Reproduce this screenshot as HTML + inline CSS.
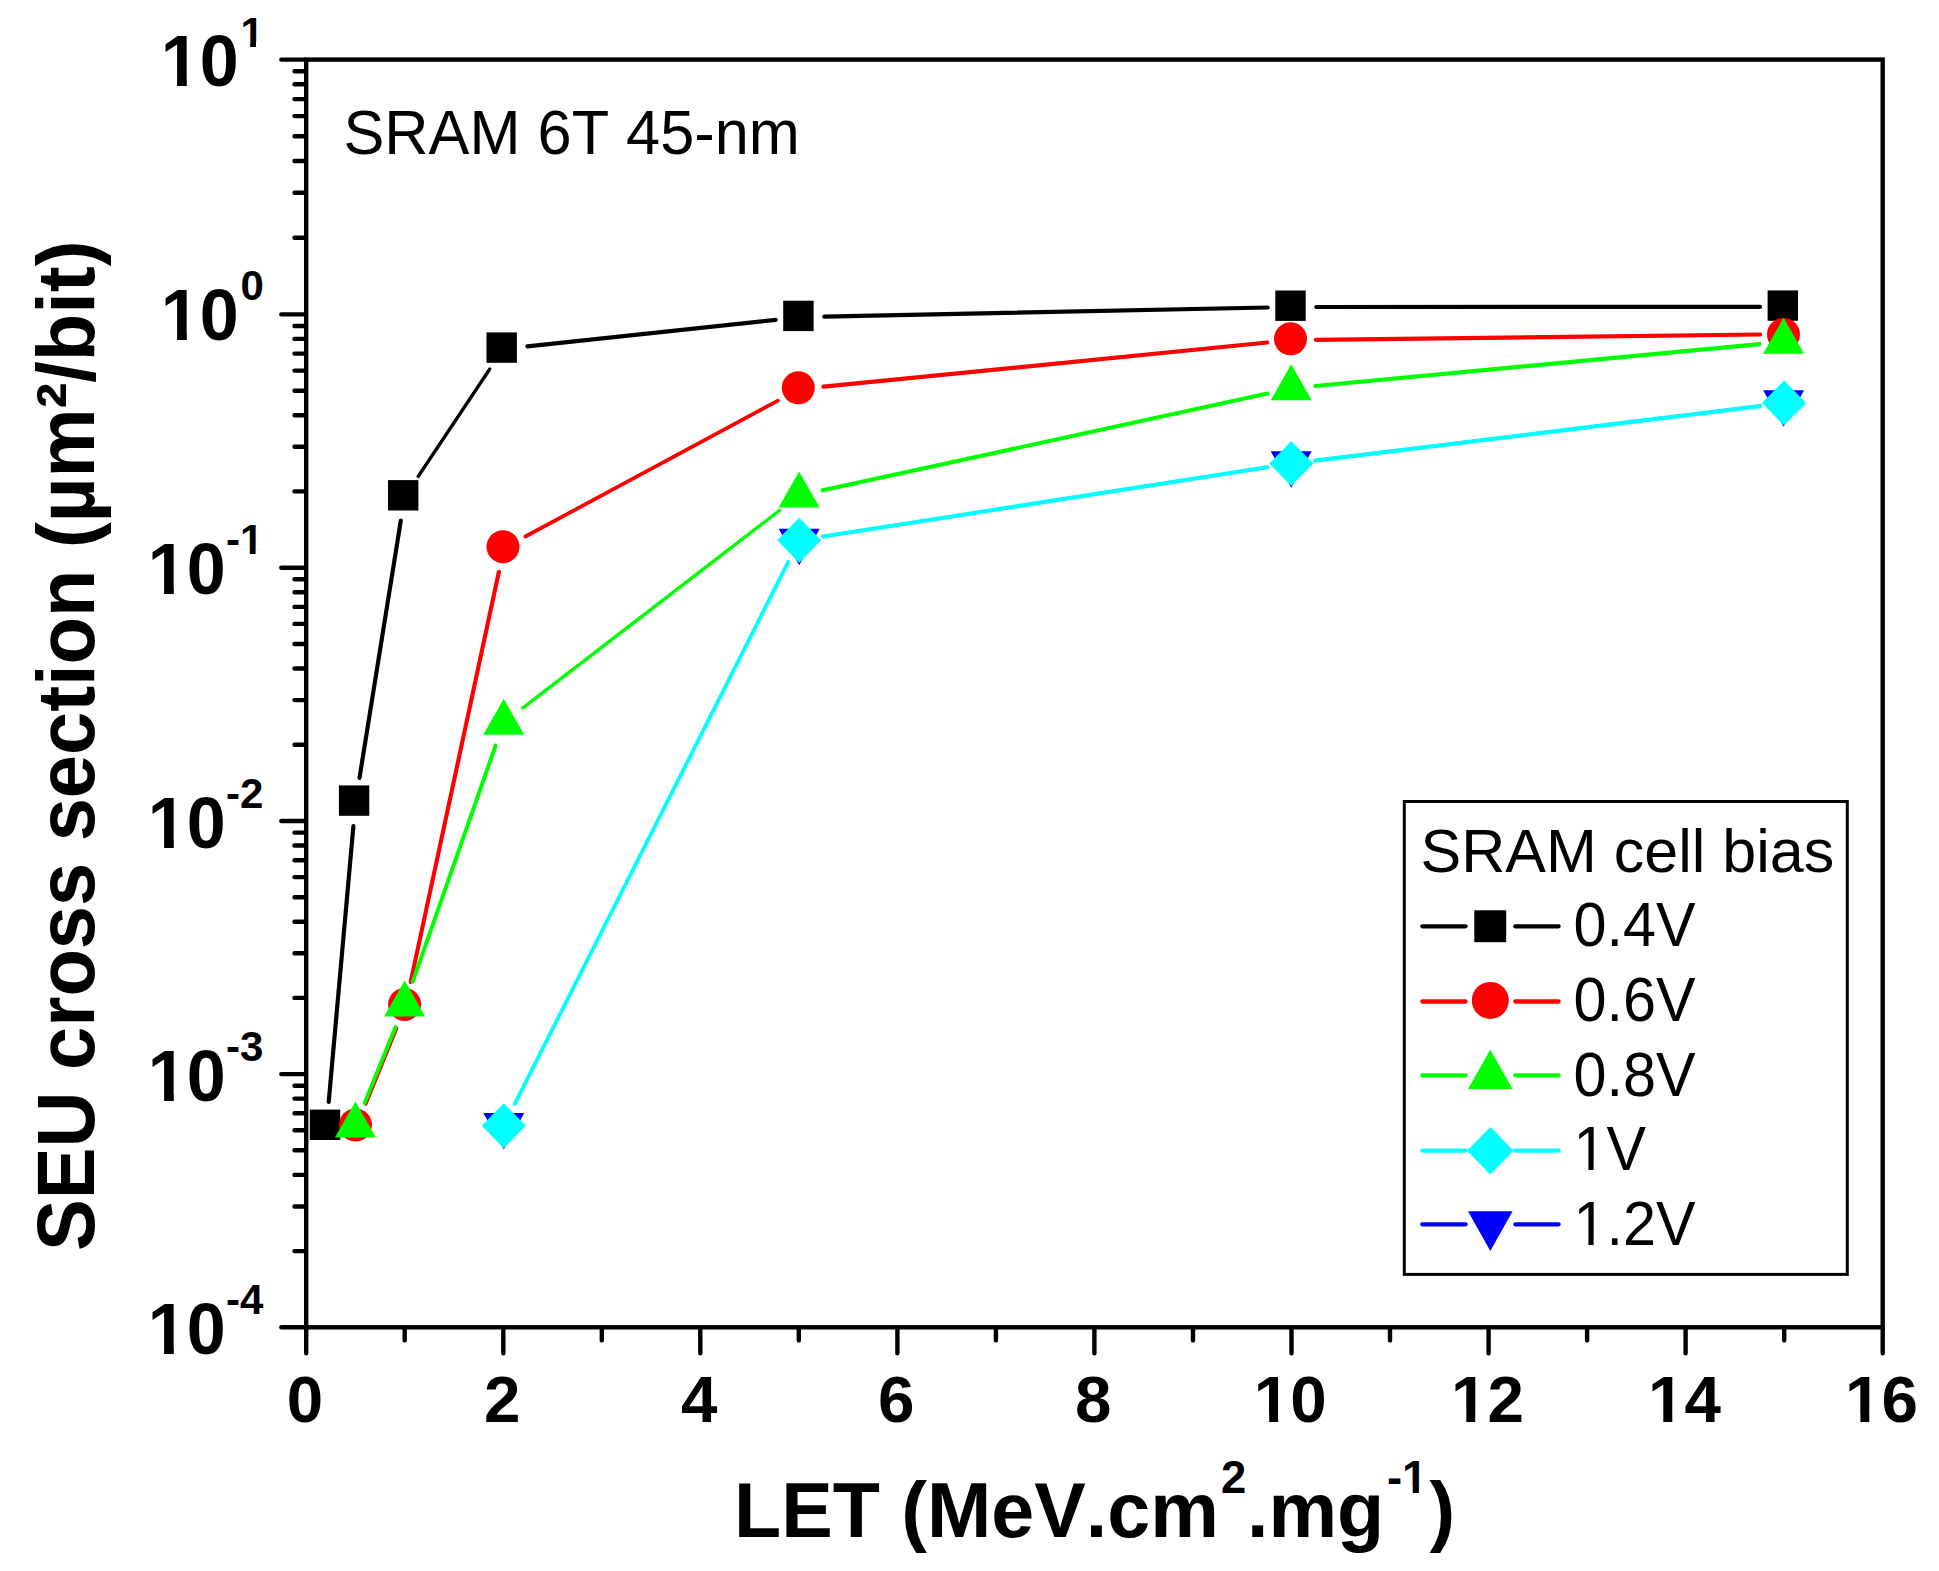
<!DOCTYPE html><html><head><meta charset="utf-8"><title>SEU cross section vs LET</title><style>html,body{margin:0;padding:0;background:#fff;overflow:hidden}svg{display:block}text{font-family:"Liberation Sans",Arial,sans-serif;fill:#000;font-kerning:none;font-feature-settings:"kern" 0,"liga" 0}</style></head><body>
<svg width="1939" height="1571" viewBox="0 0 1939 1571">
<rect x="0" y="0" width="1939" height="1571" fill="#fff"/>
<path d="M281.3 59.6H305M281.3 314.4H305M281.3 567.7H305M281.3 821.0H305M281.3 1074.1H305M281.3 1327.3H305M294.5 1251.1H305M294.5 1206.5H305M294.5 1174.9H305M294.5 1150.3H305M294.5 1130.3H305M294.5 1113.3H305M294.5 1098.6H305M294.5 1085.7H305M294.5 997.9H305M294.5 953.3H305M294.5 921.7H305M294.5 897.2H305M294.5 877.1H305M294.5 860.2H305M294.5 845.5H305M294.5 832.6H305M294.5 744.7H305M294.5 700.1H305M294.5 668.5H305M294.5 644.0H305M294.5 623.9H305M294.5 606.9H305M294.5 592.2H305M294.5 579.3H305M294.5 491.4H305M294.5 446.8H305M294.5 415.2H305M294.5 390.7H305M294.5 370.6H305M294.5 353.6H305M294.5 338.9H305M294.5 326.0H305M294.5 237.7H305M294.5 192.8H305M294.5 161.0H305M294.5 136.3H305M294.5 116.1H305M294.5 99.1H305M294.5 84.3H305M294.5 71.3H305M306.2 1328.2V1353.2M404.7 1328.2V1340.4M503.3 1328.2V1353.2M601.8 1328.2V1340.4M700.3 1328.2V1353.2M798.8 1328.2V1340.4M897.4 1328.2V1353.2M995.9 1328.2V1340.4M1094.4 1328.2V1353.2M1193.0 1328.2V1340.4M1291.5 1328.2V1353.2M1390.0 1328.2V1340.4M1488.6 1328.2V1353.2M1587.1 1328.2V1340.4M1685.6 1328.2V1353.2M1784.2 1328.2V1340.4M1882.7 1328.2V1353.2" stroke="#000" stroke-width="4.4" stroke-linecap="round" fill="none"/>
<rect x="306.2" y="59.6" width="1576.5" height="1267.7" stroke="#000" stroke-width="4.4" fill="none"/>
<path d="M328.7 1101.9L353.4 826.1" stroke="#000" stroke-width="4.18" stroke-linecap="round" fill="none"/>
<path d="M359.5 777.9L400.8 520.6" stroke="#000" stroke-width="4.15" stroke-linecap="round" fill="none"/>
<path d="M418.2 476.4L489.7 369.1" stroke="#000" stroke-width="3.49" stroke-linecap="round" fill="none"/>
<path d="M527.4 346.3L775.7 319.8" stroke="#000" stroke-width="4.18" stroke-linecap="round" fill="none"/>
<path d="M824.2 316.7L1267.7 307.5" stroke="#000" stroke-width="4.20" stroke-linecap="round" fill="none"/>
<path d="M1316.3 307.0L1760.0 306.9" stroke="#000" stroke-width="4.20" stroke-linecap="round" fill="none"/>
<rect x="309.8" y="1109.6" width="30.4" height="30.4" fill="#000"/>
<rect x="338.9" y="785.4" width="30.4" height="30.4" fill="#000"/>
<rect x="388.0" y="480.1" width="30.4" height="30.4" fill="#000"/>
<rect x="486.5" y="332.4" width="30.4" height="30.4" fill="#000"/>
<rect x="783.2" y="300.7" width="30.4" height="30.4" fill="#000"/>
<rect x="1275.3" y="290.5" width="30.4" height="30.4" fill="#000"/>
<rect x="1767.6" y="290.4" width="30.4" height="30.4" fill="#000"/>
<path d="M365.7 1103.8L396.4 1028.2" stroke="#f00" stroke-width="3.89" stroke-linecap="round" fill="none"/>
<path d="M410.7 981.9L498.9 571.8" stroke="#f00" stroke-width="4.11" stroke-linecap="round" fill="none"/>
<path d="M525.4 536.5L777.9 400.6" stroke="#f00" stroke-width="3.70" stroke-linecap="round" fill="none"/>
<path d="M823.5 386.7L1267.3 342.5" stroke="#f00" stroke-width="4.18" stroke-linecap="round" fill="none"/>
<path d="M1315.8 339.8L1760.2 334.5" stroke="#f00" stroke-width="4.20" stroke-linecap="round" fill="none"/>
<circle cx="355.5" cy="1125.0" r="16.5" fill="#f00"/>
<circle cx="404.6" cy="1004.4" r="16.5" fill="#f00"/>
<circle cx="503.0" cy="546.7" r="16.5" fill="#f00"/>
<circle cx="798.3" cy="387.8" r="16.5" fill="#f00"/>
<circle cx="1290.5" cy="338.8" r="16.5" fill="#f00"/>
<circle cx="1783.5" cy="334.4" r="16.5" fill="#f00"/>
<path d="M364.6 1103.0L395.5 1027.0" stroke="#0f0" stroke-width="3.89" stroke-linecap="round" fill="none"/>
<path d="M412.8 981.6L495.6 745.6" stroke="#0f0" stroke-width="3.96" stroke-linecap="round" fill="none"/>
<path d="M523.0 707.9L779.8 510.3" stroke="#0f0" stroke-width="3.33" stroke-linecap="round" fill="none"/>
<path d="M822.8 490.3L1267.5 393.5" stroke="#0f0" stroke-width="4.10" stroke-linecap="round" fill="none"/>
<path d="M1315.4 386.0L1759.4 344.1" stroke="#0f0" stroke-width="4.18" stroke-linecap="round" fill="none"/>
<path d="M355.4 1101.5L375.9 1137.5H334.9Z" fill="#0f0"/>
<path d="M404.7 980.5L425.2 1016.5H384.2Z" fill="#0f0"/>
<path d="M503.7 698.7L524.2 734.7H483.2Z" fill="#0f0"/>
<path d="M799.1 471.5L819.6 507.5H778.6Z" fill="#0f0"/>
<path d="M1291.2 364.3L1311.7 400.3H1270.7Z" fill="#0f0"/>
<path d="M1783.6 317.8L1804.1 353.8H1763.1Z" fill="#0f0"/>
<path d="M514.7 1104.0L788.3 561.9" stroke="#00f" stroke-width="2.68" stroke-linecap="round" fill="none"/>
<path d="M823.2 536.5L1267.3 467.3" stroke="#00f" stroke-width="2.96" stroke-linecap="round" fill="none"/>
<path d="M1315.4 460.6L1760.0 406.1" stroke="#00f" stroke-width="2.98" stroke-linecap="round" fill="none"/>
<path d="M483.3 1113.0H524.3L503.8 1149.5Z" fill="#00f"/>
<path d="M778.7 528.8H819.7L799.2 565.3Z" fill="#00f"/>
<path d="M1270.7 451.3H1311.7L1291.2 487.8Z" fill="#00f"/>
<path d="M1763.1 390.2H1804.1L1783.6 426.7Z" fill="#00f"/>
<path d="M514.7 1104.0L788.3 561.9" stroke="#0ff" stroke-width="3.75" stroke-linecap="round" fill="none"/>
<path d="M823.2 536.5L1267.3 467.3" stroke="#0ff" stroke-width="4.15" stroke-linecap="round" fill="none"/>
<path d="M1315.4 460.6L1760.0 406.1" stroke="#0ff" stroke-width="4.17" stroke-linecap="round" fill="none"/>
<path d="M503.8 1103.2L525.8 1125.7L503.8 1148.2L481.8 1125.7Z" fill="#0ff"/>
<path d="M799.2 517.7L821.2 540.2L799.2 562.7L777.2 540.2Z" fill="#0ff"/>
<path d="M1291.3 441.1L1313.3 463.6L1291.3 486.1L1269.3 463.6Z" fill="#0ff"/>
<path d="M1784.1 380.6L1806.1 403.1L1784.1 425.6L1762.1 403.1Z" fill="#0ff"/>
<text x="305.0" y="1422.2" font-size="65.5" font-weight="bold" text-anchor="middle">0</text>
<text x="502.1" y="1422.2" font-size="65.5" font-weight="bold" text-anchor="middle">2</text>
<text x="699.1" y="1422.2" font-size="65.5" font-weight="bold" text-anchor="middle">4</text>
<text x="896.2" y="1422.2" font-size="65.5" font-weight="bold" text-anchor="middle">6</text>
<text x="1093.2" y="1422.2" font-size="65.5" font-weight="bold" text-anchor="middle">8</text>
<text x="1290.3" y="1422.2" font-size="65.5" font-weight="bold" text-anchor="middle">10</text>
<rect x="1257.0" y="1414.8" width="12.2" height="8.1" fill="#fff"/><rect x="1278.1" y="1414.8" width="11.3" height="8.1" fill="#fff"/>
<text x="1487.4" y="1422.2" font-size="65.5" font-weight="bold" text-anchor="middle">12</text>
<rect x="1454.1" y="1414.8" width="12.2" height="8.1" fill="#fff"/><rect x="1475.2" y="1414.8" width="11.3" height="8.1" fill="#fff"/>
<text x="1684.4" y="1422.2" font-size="65.5" font-weight="bold" text-anchor="middle">14</text>
<rect x="1651.1" y="1414.8" width="12.2" height="8.1" fill="#fff"/><rect x="1672.3" y="1414.8" width="11.3" height="8.1" fill="#fff"/>
<text x="1881.5" y="1422.2" font-size="65.5" font-weight="bold" text-anchor="middle">16</text>
<rect x="1848.2" y="1414.8" width="12.2" height="8.1" fill="#fff"/><rect x="1869.3" y="1414.8" width="11.3" height="8.1" fill="#fff"/>
<text transform="translate(160.8 86.0) scale(1 1.045)" font-size="70" font-weight="bold">10</text>
<rect x="164.2" y="77.8" width="12.9" height="8.9" fill="#fff"/><rect x="186.8" y="77.8" width="12.0" height="8.9" fill="#fff"/>
<text x="240.4" y="46.5" font-size="42" font-weight="bold">1</text>
<rect x="242.0" y="41.5" width="8.2" height="5.7" fill="#fff"/><rect x="256.0" y="41.5" width="7.6" height="5.7" fill="#fff"/>
<text transform="translate(160.8 339.5) scale(1 1.045)" font-size="70" font-weight="bold">10</text>
<rect x="164.2" y="331.3" width="12.9" height="8.9" fill="#fff"/><rect x="186.8" y="331.3" width="12.0" height="8.9" fill="#fff"/>
<text x="240.4" y="300.0" font-size="42" font-weight="bold">0</text>
<text transform="translate(147.8 593.7) scale(1 1.045)" font-size="70" font-weight="bold">10</text>
<rect x="151.2" y="585.5" width="12.9" height="8.9" fill="#fff"/><rect x="173.8" y="585.5" width="12.0" height="8.9" fill="#fff"/>
<text x="226.0" y="554.2" font-size="42" font-weight="bold">-1</text>
<rect x="241.6" y="549.2" width="8.2" height="5.7" fill="#fff"/><rect x="255.6" y="549.2" width="7.6" height="5.7" fill="#fff"/>
<text transform="translate(147.8 847.7) scale(1 1.045)" font-size="70" font-weight="bold">10</text>
<rect x="151.2" y="839.5" width="12.9" height="8.9" fill="#fff"/><rect x="173.8" y="839.5" width="12.0" height="8.9" fill="#fff"/>
<text x="226.0" y="808.2" font-size="42" font-weight="bold">-2</text>
<text transform="translate(147.8 1100.6) scale(1 1.045)" font-size="70" font-weight="bold">10</text>
<rect x="151.2" y="1092.4" width="12.9" height="8.9" fill="#fff"/><rect x="173.8" y="1092.4" width="12.0" height="8.9" fill="#fff"/>
<text x="226.0" y="1061.1" font-size="42" font-weight="bold">-3</text>
<text transform="translate(147.8 1353.9) scale(1 1.045)" font-size="70" font-weight="bold">10</text>
<rect x="151.2" y="1345.7" width="12.9" height="8.9" fill="#fff"/><rect x="173.8" y="1345.7" width="12.0" height="8.9" fill="#fff"/>
<text x="226.0" y="1314.4" font-size="42" font-weight="bold">-4</text>
<text x="343.5" y="154.3" font-size="61.3" transform="translate(0 -3.5) scale(1 1.0227)">SRAM 6T 45-nm</text>
<rect x="1404.3" y="801.5" width="443" height="472.9" stroke="#000" stroke-width="3" fill="#fff"/>
<text x="1420.6" y="872.2" font-size="61">SRAM cell bias</text>
<path d="M1422.3 926.3H1465.6M1515.3 926.3H1558.6" stroke="#000" stroke-width="4.3" stroke-linecap="round"/>
<rect x="1474.3" y="910.3" width="31.9" height="31.9" fill="#000"/>
<text transform="translate(1573.5 946.0) scale(1 1.06)" font-size="59.3">0.4V</text>
<path d="M1422.3 1001.5H1465.6M1515.3 1001.5H1558.6" stroke="#f00" stroke-width="4.3" stroke-linecap="round"/>
<circle cx="1490.3" cy="1000.4" r="18.5" fill="#f00"/>
<text transform="translate(1573.5 1020.8) scale(1 1.06)" font-size="59.3">0.6V</text>
<path d="M1422.3 1075.4H1465.6M1515.3 1075.4H1558.6" stroke="#0f0" stroke-width="4.3" stroke-linecap="round"/>
<path d="M1490.3 1049.8L1512.6 1089.1H1468.0Z" fill="#0f0"/>
<text transform="translate(1573.5 1095.6) scale(1 1.06)" font-size="59.3">0.8V</text>
<path d="M1422.3 1150.6H1465.6M1515.3 1150.6H1558.6" stroke="#0ff" stroke-width="4.3" stroke-linecap="round"/>
<path d="M1490.3 1126.9L1513.6 1150.7L1490.3 1174.5L1467.0 1150.7Z" fill="#0ff"/>
<text transform="translate(1573.5 1170.4) scale(1 1.06)" font-size="59.3">1V</text>
<rect x="1577.0" y="1165.0" width="11.4" height="6.1" fill="#fff"/><rect x="1593.6" y="1165.0" width="10.9" height="6.1" fill="#fff"/>
<path d="M1422.3 1224.3H1465.6M1515.3 1224.3H1558.6" stroke="#00f" stroke-width="4.3" stroke-linecap="round"/>
<path d="M1468.0 1211.2H1512.6L1490.3 1251.0Z" fill="#00f"/>
<text transform="translate(1573.5 1245.2) scale(1 1.06)" font-size="59.3">1.2V</text>
<rect x="1577.0" y="1239.8" width="11.4" height="6.1" fill="#fff"/><rect x="1593.6" y="1239.8" width="10.9" height="6.1" fill="#fff"/>
<text transform="translate(734.1 1536.7) scale(1 1.02)" font-size="77.2" font-weight="bold">LET (MeV.cm</text>
<text transform="translate(1220.9 1492.7) scale(1 1.02)" font-size="45.5" font-weight="bold">2</text>
<text transform="translate(1247.0 1536.7) scale(1 1.02)" font-size="77.2" font-weight="bold">.mg</text>
<text transform="translate(1386.9 1492.7) scale(1 1.02)" font-size="45.5" font-weight="bold">-1</text>
<rect x="1403.9" y="1487.3" width="8.8" height="6.1" fill="#fff"/><rect x="1418.9" y="1487.3" width="8.2" height="6.1" fill="#fff"/>
<text transform="translate(1429.5 1536.7) scale(1 1.02)" font-size="77.2" font-weight="bold">)</text>
<text transform="translate(94.4 1251.0) rotate(-90) scale(1 1.06)" font-size="77.6" font-weight="bold">SEU cross section (µm²/bit)</text>
</svg></body></html>
